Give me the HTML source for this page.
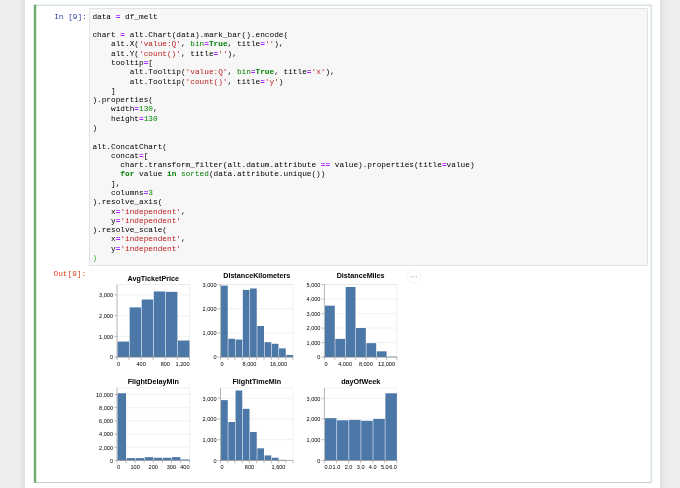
<!DOCTYPE html>
<html><head><meta charset="utf-8"><title>notebook</title>
<style>
html,body{margin:0;padding:0;}
body{width:680px;height:488px;overflow:hidden;background:#eee;position:relative;font-family:"Liberation Sans",Arial,sans-serif;}
#nb{position:absolute;left:25px;top:-20px;width:634.7px;height:540px;background:#fff;box-shadow:0 0 7.5px 0.5px rgba(87,87,87,0.2);}
#cell{position:absolute;left:33.8px;top:4.6px;width:617.6px;height:477.9px;box-sizing:border-box;border:1px solid #c6dcc7;border-left:none;}
#bar{position:absolute;left:33.8px;top:4.6px;width:2.5px;height:477.9px;background:#6bb36e;}
#inp{position:absolute;left:89.0px;top:8.0px;width:559.2px;height:257.6px;box-sizing:border-box;border:1px solid #e2e2e4;background:#f7f7f7;border-radius:1px;}
.prompt{position:absolute;font-family:"Liberation Mono",monospace;font-size:7.785px;line-height:9.27px;white-space:pre;}
#pin{left:54.2px;top:12.7px;color:#303F9F;}
#pout{left:53.5px;top:269.6px;color:#D84315;}
#code{position:absolute;left:92.4px;top:12.65px;font-family:"Liberation Mono",monospace;font-size:7.785px;line-height:9.283px;color:#000;white-space:pre;}
.ln{height:9.283px;}
.k{color:#008000;font-weight:bold;}
.o{color:#AA22FF;font-weight:bold;}
.s{color:#BA2121;}
.n{color:#008800;}
.b{color:#008000;}
.m{color:#35ad35;}
</style></head><body>
<div id="nb"></div>
<svg width="680" height="488" viewBox="0 0 680 488" style="position:absolute;left:0;top:0">
<rect x="34.5" y="5.1" width="616.6" height="477.3" fill="none" stroke="#9cbc9e" stroke-width="0.6"/>
<rect x="33.8" y="4.8" width="2.45" height="477.9" fill="#6fac6b"/>
</svg>
<div id="inp"></div>
<div class="prompt" id="pin">In [9]:</div>
<div id="code"><div class="ln">data <span class="o">=</span> df_melt</div><div class="ln">&nbsp;</div><div class="ln">chart <span class="o">=</span> alt.Chart(data).mark_bar().encode(</div><div class="ln">    alt.X(<span class="s">'value:Q'</span>, <span class="b">bin</span><span class="o">=</span><span class="k">True</span>, title<span class="o">=</span><span class="s">''</span>),</div><div class="ln">    alt.Y(<span class="s">'count()'</span>, title<span class="o">=</span><span class="s">''</span>),</div><div class="ln">    tooltip<span class="o">=</span>[</div><div class="ln">        alt.Tooltip(<span class="s">'value:Q'</span>, <span class="b">bin</span><span class="o">=</span><span class="k">True</span>, title<span class="o">=</span><span class="s">'x'</span>),</div><div class="ln">        alt.Tooltip(<span class="s">'count()'</span>, title<span class="o">=</span><span class="s">'y'</span>)</div><div class="ln">    ]</div><div class="ln">).properties(</div><div class="ln">    width<span class="o">=</span><span class="n">130</span>,</div><div class="ln">    height<span class="o">=</span><span class="n">130</span></div><div class="ln">)</div><div class="ln">&nbsp;</div><div class="ln">alt.ConcatChart(</div><div class="ln">    concat<span class="o">=</span>[</div><div class="ln">      chart.transform_filter(alt.datum.attribute <span class="o">==</span> value).properties(title<span class="o">=</span>value)</div><div class="ln">      <span class="k">for</span> value <span class="k">in</span> <span class="b">sorted</span>(data.attribute.unique())</div><div class="ln">    ],</div><div class="ln">    columns<span class="o">=</span><span class="n">3</span></div><div class="ln">).resolve_axis(</div><div class="ln">    x<span class="o">=</span><span class="s">'independent'</span>,</div><div class="ln">    y<span class="o">=</span><span class="s">'independent'</span></div><div class="ln">).resolve_scale(</div><div class="ln">    x<span class="o">=</span><span class="s">'independent'</span>,</div><div class="ln">    y<span class="o">=</span><span class="s">'independent'</span></div><div class="ln"><span class="m">)</span></div></div>
<div class="prompt" id="pout">Out[9]:</div>
<svg width="680" height="488" viewBox="0 0 680 488" style="position:absolute;left:0;top:0" font-family="Liberation Sans, Arial, sans-serif" fill="#000">
<line x1="117.00" x2="189.50" y1="357.10" y2="357.10" stroke="#e2e2e2" stroke-width="0.5"/>
<line x1="117.00" x2="189.50" y1="336.39" y2="336.39" stroke="#e2e2e2" stroke-width="0.5"/>
<line x1="117.00" x2="189.50" y1="315.67" y2="315.67" stroke="#e2e2e2" stroke-width="0.5"/>
<line x1="117.00" x2="189.50" y1="294.96" y2="294.96" stroke="#e2e2e2" stroke-width="0.5"/>
<rect x="117.00" y="284.60" width="72.50" height="72.50" fill="none" stroke="#e2e2e2" stroke-width="0.5"/>
<rect x="117.55" y="341.56" width="11.53" height="15.54" fill="#4c78a8"/>
<rect x="129.63" y="307.39" width="11.53" height="49.71" fill="#4c78a8"/>
<rect x="141.72" y="299.51" width="11.53" height="57.59" fill="#4c78a8"/>
<rect x="153.80" y="291.44" width="11.53" height="65.66" fill="#4c78a8"/>
<rect x="165.88" y="291.85" width="11.53" height="65.25" fill="#4c78a8"/>
<rect x="177.97" y="340.53" width="11.53" height="16.57" fill="#4c78a8"/>
<line x1="117.00" x2="189.50" y1="357.10" y2="357.10" stroke="#888" stroke-width="0.55"/>
<line x1="117.00" x2="117.00" y1="284.60" y2="357.10" stroke="#888" stroke-width="0.55"/>
<line x1="114.20" x2="117.00" y1="357.10" y2="357.10" stroke="#888" stroke-width="0.55"/>
<text x="113.00" y="359.43" text-anchor="end" font-size="5.55">0</text>
<line x1="114.20" x2="117.00" y1="336.39" y2="336.39" stroke="#888" stroke-width="0.55"/>
<text x="113.00" y="338.72" text-anchor="end" font-size="5.55">1,000</text>
<line x1="114.20" x2="117.00" y1="315.67" y2="315.67" stroke="#888" stroke-width="0.55"/>
<text x="113.00" y="318.00" text-anchor="end" font-size="5.55">2,000</text>
<line x1="114.20" x2="117.00" y1="294.96" y2="294.96" stroke="#888" stroke-width="0.55"/>
<text x="113.00" y="297.29" text-anchor="end" font-size="5.55">3,000</text>
<line x1="117.00" x2="117.00" y1="357.10" y2="359.90" stroke="#888" stroke-width="0.55"/>
<line x1="129.08" x2="129.08" y1="357.10" y2="359.90" stroke="#888" stroke-width="0.55"/>
<line x1="141.17" x2="141.17" y1="357.10" y2="359.90" stroke="#888" stroke-width="0.55"/>
<line x1="153.25" x2="153.25" y1="357.10" y2="359.90" stroke="#888" stroke-width="0.55"/>
<line x1="165.33" x2="165.33" y1="357.10" y2="359.90" stroke="#888" stroke-width="0.55"/>
<line x1="177.42" x2="177.42" y1="357.10" y2="359.90" stroke="#888" stroke-width="0.55"/>
<line x1="189.50" x2="189.50" y1="357.10" y2="359.90" stroke="#888" stroke-width="0.55"/>
<text x="117.00" y="365.76" text-anchor="start" font-size="5.55">0</text>
<text x="141.17" y="365.76" text-anchor="middle" font-size="5.55">400</text>
<text x="165.33" y="365.76" text-anchor="middle" font-size="5.55">800</text>
<text x="189.50" y="365.76" text-anchor="end" font-size="5.55">1,200</text>
<text x="153.25" y="280.79" text-anchor="middle" font-size="7.2" font-weight="bold">AvgTicketPrice</text>
<line x1="220.50" x2="293.00" y1="357.10" y2="357.10" stroke="#e2e2e2" stroke-width="0.5"/>
<line x1="220.50" x2="293.00" y1="332.93" y2="332.93" stroke="#e2e2e2" stroke-width="0.5"/>
<line x1="220.50" x2="293.00" y1="308.77" y2="308.77" stroke="#e2e2e2" stroke-width="0.5"/>
<line x1="220.50" x2="293.00" y1="284.60" y2="284.60" stroke="#e2e2e2" stroke-width="0.5"/>
<rect x="220.50" y="284.60" width="72.50" height="72.50" fill="none" stroke="#e2e2e2" stroke-width="0.5"/>
<rect x="221.05" y="285.62" width="6.70" height="71.48" fill="#4c78a8"/>
<rect x="228.30" y="338.81" width="6.70" height="18.29" fill="#4c78a8"/>
<rect x="235.55" y="339.58" width="6.70" height="17.52" fill="#4c78a8"/>
<rect x="242.80" y="289.89" width="6.70" height="67.21" fill="#4c78a8"/>
<rect x="250.05" y="288.47" width="6.70" height="68.63" fill="#4c78a8"/>
<rect x="257.30" y="326.00" width="6.70" height="31.10" fill="#4c78a8"/>
<rect x="264.55" y="342.17" width="6.70" height="14.94" fill="#4c78a8"/>
<rect x="271.80" y="343.78" width="6.70" height="13.32" fill="#4c78a8"/>
<rect x="279.05" y="348.40" width="6.70" height="8.70" fill="#4c78a8"/>
<rect x="286.30" y="354.97" width="6.70" height="2.13" fill="#4c78a8"/>
<line x1="220.50" x2="293.00" y1="357.10" y2="357.10" stroke="#888" stroke-width="0.55"/>
<line x1="220.50" x2="220.50" y1="284.60" y2="357.10" stroke="#888" stroke-width="0.55"/>
<line x1="217.70" x2="220.50" y1="357.10" y2="357.10" stroke="#888" stroke-width="0.55"/>
<text x="216.50" y="359.43" text-anchor="end" font-size="5.55">0</text>
<line x1="217.70" x2="220.50" y1="332.93" y2="332.93" stroke="#888" stroke-width="0.55"/>
<text x="216.50" y="335.26" text-anchor="end" font-size="5.55">1,000</text>
<line x1="217.70" x2="220.50" y1="308.77" y2="308.77" stroke="#888" stroke-width="0.55"/>
<text x="216.50" y="311.10" text-anchor="end" font-size="5.55">2,000</text>
<line x1="217.70" x2="220.50" y1="284.60" y2="284.60" stroke="#888" stroke-width="0.55"/>
<text x="216.50" y="286.93" text-anchor="end" font-size="5.55">3,000</text>
<line x1="220.50" x2="220.50" y1="357.10" y2="359.90" stroke="#888" stroke-width="0.55"/>
<line x1="227.75" x2="227.75" y1="357.10" y2="359.90" stroke="#888" stroke-width="0.55"/>
<line x1="235.00" x2="235.00" y1="357.10" y2="359.90" stroke="#888" stroke-width="0.55"/>
<line x1="242.25" x2="242.25" y1="357.10" y2="359.90" stroke="#888" stroke-width="0.55"/>
<line x1="249.50" x2="249.50" y1="357.10" y2="359.90" stroke="#888" stroke-width="0.55"/>
<line x1="256.75" x2="256.75" y1="357.10" y2="359.90" stroke="#888" stroke-width="0.55"/>
<line x1="264.00" x2="264.00" y1="357.10" y2="359.90" stroke="#888" stroke-width="0.55"/>
<line x1="271.25" x2="271.25" y1="357.10" y2="359.90" stroke="#888" stroke-width="0.55"/>
<line x1="278.50" x2="278.50" y1="357.10" y2="359.90" stroke="#888" stroke-width="0.55"/>
<line x1="285.75" x2="285.75" y1="357.10" y2="359.90" stroke="#888" stroke-width="0.55"/>
<line x1="293.00" x2="293.00" y1="357.10" y2="359.90" stroke="#888" stroke-width="0.55"/>
<text x="220.50" y="365.76" text-anchor="start" font-size="5.55">0</text>
<text x="249.50" y="365.76" text-anchor="middle" font-size="5.55">8,000</text>
<text x="278.50" y="365.76" text-anchor="middle" font-size="5.55">16,000</text>
<text x="256.75" y="278.19" text-anchor="middle" font-size="7.2" font-weight="bold">DistanceKilometers</text>
<line x1="324.40" x2="396.90" y1="357.10" y2="357.10" stroke="#e2e2e2" stroke-width="0.5"/>
<line x1="324.40" x2="396.90" y1="342.60" y2="342.60" stroke="#e2e2e2" stroke-width="0.5"/>
<line x1="324.40" x2="396.90" y1="328.10" y2="328.10" stroke="#e2e2e2" stroke-width="0.5"/>
<line x1="324.40" x2="396.90" y1="313.60" y2="313.60" stroke="#e2e2e2" stroke-width="0.5"/>
<line x1="324.40" x2="396.90" y1="299.10" y2="299.10" stroke="#e2e2e2" stroke-width="0.5"/>
<line x1="324.40" x2="396.90" y1="284.60" y2="284.60" stroke="#e2e2e2" stroke-width="0.5"/>
<rect x="324.40" y="284.60" width="72.50" height="72.50" fill="none" stroke="#e2e2e2" stroke-width="0.5"/>
<rect x="324.95" y="305.67" width="9.81" height="51.43" fill="#4c78a8"/>
<rect x="335.31" y="338.87" width="9.81" height="18.23" fill="#4c78a8"/>
<rect x="345.66" y="286.98" width="9.81" height="70.12" fill="#4c78a8"/>
<rect x="356.02" y="328.00" width="9.81" height="29.10" fill="#4c78a8"/>
<rect x="366.38" y="343.15" width="9.81" height="13.95" fill="#4c78a8"/>
<rect x="376.74" y="351.34" width="9.81" height="5.76" fill="#4c78a8"/>
<rect x="387.09" y="356.74" width="9.81" height="0.36" fill="#4c78a8"/>
<line x1="324.40" x2="396.90" y1="357.10" y2="357.10" stroke="#888" stroke-width="0.55"/>
<line x1="324.40" x2="324.40" y1="284.60" y2="357.10" stroke="#888" stroke-width="0.55"/>
<line x1="321.60" x2="324.40" y1="357.10" y2="357.10" stroke="#888" stroke-width="0.55"/>
<text x="320.40" y="359.43" text-anchor="end" font-size="5.55">0</text>
<line x1="321.60" x2="324.40" y1="342.60" y2="342.60" stroke="#888" stroke-width="0.55"/>
<text x="320.40" y="344.93" text-anchor="end" font-size="5.55">1,000</text>
<line x1="321.60" x2="324.40" y1="328.10" y2="328.10" stroke="#888" stroke-width="0.55"/>
<text x="320.40" y="330.43" text-anchor="end" font-size="5.55">2,000</text>
<line x1="321.60" x2="324.40" y1="313.60" y2="313.60" stroke="#888" stroke-width="0.55"/>
<text x="320.40" y="315.93" text-anchor="end" font-size="5.55">3,000</text>
<line x1="321.60" x2="324.40" y1="299.10" y2="299.10" stroke="#888" stroke-width="0.55"/>
<text x="320.40" y="301.43" text-anchor="end" font-size="5.55">4,000</text>
<line x1="321.60" x2="324.40" y1="284.60" y2="284.60" stroke="#888" stroke-width="0.55"/>
<text x="320.40" y="286.93" text-anchor="end" font-size="5.55">5,000</text>
<line x1="324.40" x2="324.40" y1="357.10" y2="359.90" stroke="#888" stroke-width="0.55"/>
<line x1="334.76" x2="334.76" y1="357.10" y2="359.90" stroke="#888" stroke-width="0.55"/>
<line x1="345.11" x2="345.11" y1="357.10" y2="359.90" stroke="#888" stroke-width="0.55"/>
<line x1="355.47" x2="355.47" y1="357.10" y2="359.90" stroke="#888" stroke-width="0.55"/>
<line x1="365.83" x2="365.83" y1="357.10" y2="359.90" stroke="#888" stroke-width="0.55"/>
<line x1="376.19" x2="376.19" y1="357.10" y2="359.90" stroke="#888" stroke-width="0.55"/>
<line x1="386.54" x2="386.54" y1="357.10" y2="359.90" stroke="#888" stroke-width="0.55"/>
<line x1="396.90" x2="396.90" y1="357.10" y2="359.90" stroke="#888" stroke-width="0.55"/>
<text x="324.40" y="365.76" text-anchor="start" font-size="5.55">0</text>
<text x="345.11" y="365.76" text-anchor="middle" font-size="5.55">4,000</text>
<text x="365.83" y="365.76" text-anchor="middle" font-size="5.55">8,000</text>
<text x="386.54" y="365.76" text-anchor="middle" font-size="5.55">12,000</text>
<text x="360.65" y="278.19" text-anchor="middle" font-size="7.2" font-weight="bold">DistanceMiles</text>
<line x1="117.00" x2="189.50" y1="460.40" y2="460.40" stroke="#e2e2e2" stroke-width="0.5"/>
<line x1="117.00" x2="189.50" y1="447.22" y2="447.22" stroke="#e2e2e2" stroke-width="0.5"/>
<line x1="117.00" x2="189.50" y1="434.04" y2="434.04" stroke="#e2e2e2" stroke-width="0.5"/>
<line x1="117.00" x2="189.50" y1="420.85" y2="420.85" stroke="#e2e2e2" stroke-width="0.5"/>
<line x1="117.00" x2="189.50" y1="407.67" y2="407.67" stroke="#e2e2e2" stroke-width="0.5"/>
<line x1="117.00" x2="189.50" y1="394.49" y2="394.49" stroke="#e2e2e2" stroke-width="0.5"/>
<rect x="117.00" y="387.90" width="72.50" height="72.50" fill="none" stroke="#e2e2e2" stroke-width="0.5"/>
<rect x="117.55" y="393.28" width="8.51" height="67.12" fill="#4c78a8"/>
<rect x="126.61" y="458.09" width="8.51" height="2.31" fill="#4c78a8"/>
<rect x="135.68" y="458.09" width="8.51" height="2.31" fill="#4c78a8"/>
<rect x="144.74" y="457.17" width="8.51" height="3.23" fill="#4c78a8"/>
<rect x="153.80" y="457.76" width="8.51" height="2.64" fill="#4c78a8"/>
<rect x="162.86" y="457.76" width="8.51" height="2.64" fill="#4c78a8"/>
<rect x="171.93" y="457.17" width="8.51" height="3.23" fill="#4c78a8"/>
<rect x="180.99" y="459.54" width="8.51" height="0.86" fill="#4c78a8"/>
<line x1="117.00" x2="189.50" y1="460.40" y2="460.40" stroke="#888" stroke-width="0.55"/>
<line x1="117.00" x2="117.00" y1="387.90" y2="460.40" stroke="#888" stroke-width="0.55"/>
<line x1="114.20" x2="117.00" y1="460.40" y2="460.40" stroke="#888" stroke-width="0.55"/>
<text x="113.00" y="462.73" text-anchor="end" font-size="5.55">0</text>
<line x1="114.20" x2="117.00" y1="447.22" y2="447.22" stroke="#888" stroke-width="0.55"/>
<text x="113.00" y="449.55" text-anchor="end" font-size="5.55">2,000</text>
<line x1="114.20" x2="117.00" y1="434.04" y2="434.04" stroke="#888" stroke-width="0.55"/>
<text x="113.00" y="436.37" text-anchor="end" font-size="5.55">4,000</text>
<line x1="114.20" x2="117.00" y1="420.85" y2="420.85" stroke="#888" stroke-width="0.55"/>
<text x="113.00" y="423.19" text-anchor="end" font-size="5.55">6,000</text>
<line x1="114.20" x2="117.00" y1="407.67" y2="407.67" stroke="#888" stroke-width="0.55"/>
<text x="113.00" y="410.00" text-anchor="end" font-size="5.55">8,000</text>
<line x1="114.20" x2="117.00" y1="394.49" y2="394.49" stroke="#888" stroke-width="0.55"/>
<text x="113.00" y="396.82" text-anchor="end" font-size="5.55">10,000</text>
<line x1="117.00" x2="117.00" y1="460.40" y2="463.20" stroke="#888" stroke-width="0.55"/>
<line x1="126.06" x2="126.06" y1="460.40" y2="463.20" stroke="#888" stroke-width="0.55"/>
<line x1="135.12" x2="135.12" y1="460.40" y2="463.20" stroke="#888" stroke-width="0.55"/>
<line x1="144.19" x2="144.19" y1="460.40" y2="463.20" stroke="#888" stroke-width="0.55"/>
<line x1="153.25" x2="153.25" y1="460.40" y2="463.20" stroke="#888" stroke-width="0.55"/>
<line x1="162.31" x2="162.31" y1="460.40" y2="463.20" stroke="#888" stroke-width="0.55"/>
<line x1="171.38" x2="171.38" y1="460.40" y2="463.20" stroke="#888" stroke-width="0.55"/>
<line x1="180.44" x2="180.44" y1="460.40" y2="463.20" stroke="#888" stroke-width="0.55"/>
<line x1="189.50" x2="189.50" y1="460.40" y2="463.20" stroke="#888" stroke-width="0.55"/>
<text x="117.00" y="469.06" text-anchor="start" font-size="5.55">0</text>
<text x="135.12" y="469.06" text-anchor="middle" font-size="5.55">100</text>
<text x="153.25" y="469.06" text-anchor="middle" font-size="5.55">200</text>
<text x="171.38" y="469.06" text-anchor="middle" font-size="5.55">300</text>
<text x="189.50" y="469.06" text-anchor="end" font-size="5.55">400</text>
<text x="153.25" y="384.19" text-anchor="middle" font-size="7.2" font-weight="bold">FlightDelayMin</text>
<line x1="220.50" x2="293.00" y1="460.40" y2="460.40" stroke="#e2e2e2" stroke-width="0.5"/>
<line x1="220.50" x2="293.00" y1="439.69" y2="439.69" stroke="#e2e2e2" stroke-width="0.5"/>
<line x1="220.50" x2="293.00" y1="418.97" y2="418.97" stroke="#e2e2e2" stroke-width="0.5"/>
<line x1="220.50" x2="293.00" y1="398.26" y2="398.26" stroke="#e2e2e2" stroke-width="0.5"/>
<rect x="220.50" y="387.90" width="72.50" height="72.50" fill="none" stroke="#e2e2e2" stroke-width="0.5"/>
<rect x="221.05" y="400.12" width="6.70" height="60.28" fill="#4c78a8"/>
<rect x="228.30" y="422.00" width="6.70" height="38.40" fill="#4c78a8"/>
<rect x="235.55" y="390.53" width="6.70" height="69.87" fill="#4c78a8"/>
<rect x="242.80" y="408.84" width="6.70" height="51.56" fill="#4c78a8"/>
<rect x="250.05" y="431.98" width="6.70" height="28.42" fill="#4c78a8"/>
<rect x="257.30" y="448.32" width="6.70" height="12.08" fill="#4c78a8"/>
<rect x="264.55" y="455.43" width="6.70" height="4.97" fill="#4c78a8"/>
<rect x="271.80" y="457.75" width="6.70" height="2.65" fill="#4c78a8"/>
<rect x="279.05" y="459.88" width="6.70" height="0.52" fill="#4c78a8"/>
<rect x="286.30" y="460.32" width="6.70" height="0.08" fill="#4c78a8"/>
<line x1="220.50" x2="293.00" y1="460.40" y2="460.40" stroke="#888" stroke-width="0.55"/>
<line x1="220.50" x2="220.50" y1="387.90" y2="460.40" stroke="#888" stroke-width="0.55"/>
<line x1="217.70" x2="220.50" y1="460.40" y2="460.40" stroke="#888" stroke-width="0.55"/>
<text x="216.50" y="462.73" text-anchor="end" font-size="5.55">0</text>
<line x1="217.70" x2="220.50" y1="439.69" y2="439.69" stroke="#888" stroke-width="0.55"/>
<text x="216.50" y="442.02" text-anchor="end" font-size="5.55">1,000</text>
<line x1="217.70" x2="220.50" y1="418.97" y2="418.97" stroke="#888" stroke-width="0.55"/>
<text x="216.50" y="421.30" text-anchor="end" font-size="5.55">2,000</text>
<line x1="217.70" x2="220.50" y1="398.26" y2="398.26" stroke="#888" stroke-width="0.55"/>
<text x="216.50" y="400.59" text-anchor="end" font-size="5.55">3,000</text>
<line x1="220.50" x2="220.50" y1="460.40" y2="463.20" stroke="#888" stroke-width="0.55"/>
<line x1="227.75" x2="227.75" y1="460.40" y2="463.20" stroke="#888" stroke-width="0.55"/>
<line x1="235.00" x2="235.00" y1="460.40" y2="463.20" stroke="#888" stroke-width="0.55"/>
<line x1="242.25" x2="242.25" y1="460.40" y2="463.20" stroke="#888" stroke-width="0.55"/>
<line x1="249.50" x2="249.50" y1="460.40" y2="463.20" stroke="#888" stroke-width="0.55"/>
<line x1="256.75" x2="256.75" y1="460.40" y2="463.20" stroke="#888" stroke-width="0.55"/>
<line x1="264.00" x2="264.00" y1="460.40" y2="463.20" stroke="#888" stroke-width="0.55"/>
<line x1="271.25" x2="271.25" y1="460.40" y2="463.20" stroke="#888" stroke-width="0.55"/>
<line x1="278.50" x2="278.50" y1="460.40" y2="463.20" stroke="#888" stroke-width="0.55"/>
<line x1="285.75" x2="285.75" y1="460.40" y2="463.20" stroke="#888" stroke-width="0.55"/>
<line x1="293.00" x2="293.00" y1="460.40" y2="463.20" stroke="#888" stroke-width="0.55"/>
<text x="220.50" y="469.06" text-anchor="start" font-size="5.55">0</text>
<text x="249.50" y="469.06" text-anchor="middle" font-size="5.55">800</text>
<text x="278.50" y="469.06" text-anchor="middle" font-size="5.55">1,600</text>
<text x="256.75" y="384.19" text-anchor="middle" font-size="7.2" font-weight="bold">FlightTimeMin</text>
<line x1="324.40" x2="396.90" y1="460.40" y2="460.40" stroke="#e2e2e2" stroke-width="0.5"/>
<line x1="324.40" x2="396.90" y1="439.69" y2="439.69" stroke="#e2e2e2" stroke-width="0.5"/>
<line x1="324.40" x2="396.90" y1="418.97" y2="418.97" stroke="#e2e2e2" stroke-width="0.5"/>
<line x1="324.40" x2="396.90" y1="398.26" y2="398.26" stroke="#e2e2e2" stroke-width="0.5"/>
<rect x="324.40" y="387.90" width="72.50" height="72.50" fill="none" stroke="#e2e2e2" stroke-width="0.5"/>
<rect x="324.95" y="418.16" width="11.53" height="42.24" fill="#4c78a8"/>
<rect x="337.03" y="420.28" width="11.53" height="40.12" fill="#4c78a8"/>
<rect x="349.12" y="419.90" width="11.53" height="40.50" fill="#4c78a8"/>
<rect x="361.20" y="420.79" width="11.53" height="39.61" fill="#4c78a8"/>
<rect x="373.28" y="418.87" width="11.53" height="41.53" fill="#4c78a8"/>
<rect x="385.37" y="393.29" width="11.53" height="67.11" fill="#4c78a8"/>
<line x1="324.40" x2="396.90" y1="460.40" y2="460.40" stroke="#888" stroke-width="0.55"/>
<line x1="324.40" x2="324.40" y1="387.90" y2="460.40" stroke="#888" stroke-width="0.55"/>
<line x1="321.60" x2="324.40" y1="460.40" y2="460.40" stroke="#888" stroke-width="0.55"/>
<text x="320.40" y="462.73" text-anchor="end" font-size="5.55">0</text>
<line x1="321.60" x2="324.40" y1="439.69" y2="439.69" stroke="#888" stroke-width="0.55"/>
<text x="320.40" y="442.02" text-anchor="end" font-size="5.55">1,000</text>
<line x1="321.60" x2="324.40" y1="418.97" y2="418.97" stroke="#888" stroke-width="0.55"/>
<text x="320.40" y="421.30" text-anchor="end" font-size="5.55">2,000</text>
<line x1="321.60" x2="324.40" y1="398.26" y2="398.26" stroke="#888" stroke-width="0.55"/>
<text x="320.40" y="400.59" text-anchor="end" font-size="5.55">3,000</text>
<line x1="324.40" x2="324.40" y1="460.40" y2="463.20" stroke="#888" stroke-width="0.55"/>
<line x1="336.48" x2="336.48" y1="460.40" y2="463.20" stroke="#888" stroke-width="0.55"/>
<line x1="348.57" x2="348.57" y1="460.40" y2="463.20" stroke="#888" stroke-width="0.55"/>
<line x1="360.65" x2="360.65" y1="460.40" y2="463.20" stroke="#888" stroke-width="0.55"/>
<line x1="372.73" x2="372.73" y1="460.40" y2="463.20" stroke="#888" stroke-width="0.55"/>
<line x1="384.82" x2="384.82" y1="460.40" y2="463.20" stroke="#888" stroke-width="0.55"/>
<line x1="396.90" x2="396.90" y1="460.40" y2="463.20" stroke="#888" stroke-width="0.55"/>
<text x="324.40" y="469.06" text-anchor="start" font-size="5.55">0.0</text>
<text x="336.48" y="469.06" text-anchor="middle" font-size="5.55">1.0</text>
<text x="348.57" y="469.06" text-anchor="middle" font-size="5.55">2.0</text>
<text x="360.65" y="469.06" text-anchor="middle" font-size="5.55">3.0</text>
<text x="372.73" y="469.06" text-anchor="middle" font-size="5.55">4.0</text>
<text x="384.82" y="469.06" text-anchor="middle" font-size="5.55">5.0</text>
<text x="396.90" y="469.06" text-anchor="end" font-size="5.55">6.0</text>
<text x="360.65" y="384.19" text-anchor="middle" font-size="7.2" font-weight="bold">dayOfWeek</text>
<circle cx="413.8" cy="276.8" r="6.6" fill="#fff" stroke="#f0f0f0" stroke-width="0.7"/>
<circle cx="411.2" cy="276.8" r="0.75" fill="#c4c4c4"/><circle cx="413.8" cy="276.8" r="0.75" fill="#c4c4c4"/><circle cx="416.4" cy="276.8" r="0.75" fill="#c4c4c4"/>
</svg>
</body></html>
